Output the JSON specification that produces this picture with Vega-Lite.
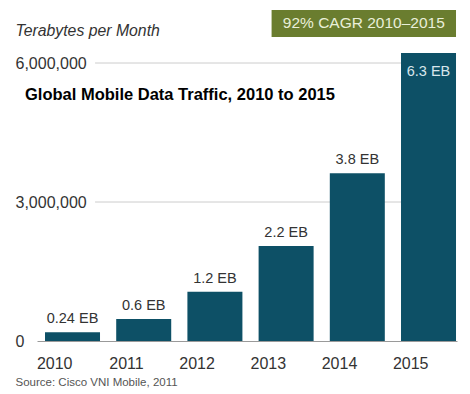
{
  "$schema": "https://vega.github.io/schema/vega-lite/v6.json",
  "autosize": "none",
  "width": 420,
  "height": 331,
  "padding": {"left": 37, "top": 10, "right": 13, "bottom": 53},
  "background": "white",
  "config": {"font": "Liberation Sans", "view": {"stroke": null}},
  "title": {
    "text": "Global Mobile Data Traffic, 2010 to 2015",
    "anchor": "start",
    "frame": "group",
    "offset": 0,
    "baseline": "alphabetic",
    "dx": -12,
    "dy": 106,
    "fontSize": 16.5,
    "fontWeight": "bold",
    "color": "#000000",
    "font": "Liberation Sans"
  },
  "datasets": {
    "traffic": [
      {"year": "2010", "tb": 188000, "label": "0.24 EB"},
      {"year": "2011", "tb": 475000, "label": "0.6 EB"},
      {"year": "2012", "tb": 1064000, "label": "1.2 EB"},
      {"year": "2013", "tb": 2050000, "label": "2.2 EB"},
      {"year": "2014", "tb": 3620000, "label": "3.8 EB"},
      {"year": "2015", "tb": 6216000, "label": "6.3 EB"}
    ],
    "grid": [{"v": 3000000}, {"v": 6000000}],
    "badge": [{"text": "92% CAGR 2010–2015"}]
  },
  "layer": [
    {
      "data": {"name": "grid"},
      "mark": {"type": "rule", "color": "#cccccc", "strokeWidth": 1},
      "encoding": {
        "x": {"datum": "2010", "type": "ordinal", "bandPosition": 0.91},
        "x2": {"datum": "2015", "bandPosition": 0.5},
        "y": {"field": "v", "type": "quantitative"}
      }
    },
    {
      "data": {"name": "traffic"},
      "mark": {"type": "bar", "color": "#0d5066"},
      "encoding": {
        "x": {
          "field": "year",
          "type": "ordinal",
          "scale": {"paddingInner": 0.2275, "paddingOuter": 0.0632, "align": 0.89},
          "axis": {
            "title": "Source: Cisco VNI Mobile, 2011",
            "titleX": -22,
            "titleY": 44,
            "titleAlign": "left",
            "titleAnchor": "start",
            "titleBaseline": "alphabetic",
            "titleFontSize": 11.5,
            "titleFontWeight": "normal",
            "titleColor": "#555555",
            "labelAngle": 0,
            "labelFontSize": 16,
            "labelColor": "#333333",
            "labelPadding": 14,
            "labelBaseline": "top",
            "ticks": false,
            "tickSize": 0,
            "domainColor": "#9a9a9a",
            "domainWidth": 1
          }
        },
        "y": {
          "field": "tb",
          "type": "quantitative",
          "scale": {"domain": [0, 7143900], "nice": false},
          "axis": {
            "values": [0, 3000000, 6000000],
            "format": ",d",
            "grid": false,
            "domain": false,
            "ticks": false,
            "tickSize": 0,
            "labelAlign": "left",
            "labelBaseline": "middle",
            "labelPadding": 22,
            "labelFontSize": 16,
            "labelColor": "#333333",
            "title": "Terabytes per Month",
            "titleAngle": 0,
            "titleX": -22,
            "titleY": 25,
            "titleAlign": "left",
            "titleBaseline": "alphabetic",
            "titleFontSize": 15.8,
            "titleFontStyle": "italic",
            "titleFontWeight": "normal",
            "titleColor": "#333333"
          }
        }
      }
    },
    {
      "data": {"name": "traffic"},
      "transform": [{"filter": "datum.year != '2015'"}],
      "mark": {"type": "text", "fontSize": 14.5, "color": "#333333", "baseline": "alphabetic", "dy": -9},
      "encoding": {
        "x": {"field": "year", "type": "ordinal"},
        "y": {"field": "tb", "type": "quantitative"},
        "text": {"field": "label"}
      }
    },
    {
      "data": {"name": "traffic"},
      "transform": [{"filter": "datum.year == '2015'"}],
      "mark": {"type": "text", "fontSize": 14.5, "color": "#d8e6ec", "baseline": "alphabetic", "dy": 23},
      "encoding": {
        "x": {"field": "year", "type": "ordinal"},
        "y": {"field": "tb", "type": "quantitative"},
        "text": {"field": "label"}
      }
    },
    {
      "data": {"name": "badge"},
      "mark": {"type": "rect", "color": "#6a7d2f"},
      "encoding": {
        "x": {"datum": "2013", "type": "ordinal", "bandPosition": 0.236},
        "x2": {"datum": "2015", "bandPosition": 1},
        "y": {"datum": 6561000, "type": "quantitative"},
        "y2": {"datum": 7143900}
      }
    },
    {
      "data": {"name": "badge"},
      "mark": {"type": "text", "fontSize": 15.5, "color": "#e9efd9", "baseline": "middle", "align": "center"},
      "encoding": {
        "x": {"datum": "2014", "type": "ordinal", "bandPosition": 0.618},
        "y": {"datum": 6853000, "type": "quantitative"},
        "text": {"field": "text"}
      }
    }
  ]
}
